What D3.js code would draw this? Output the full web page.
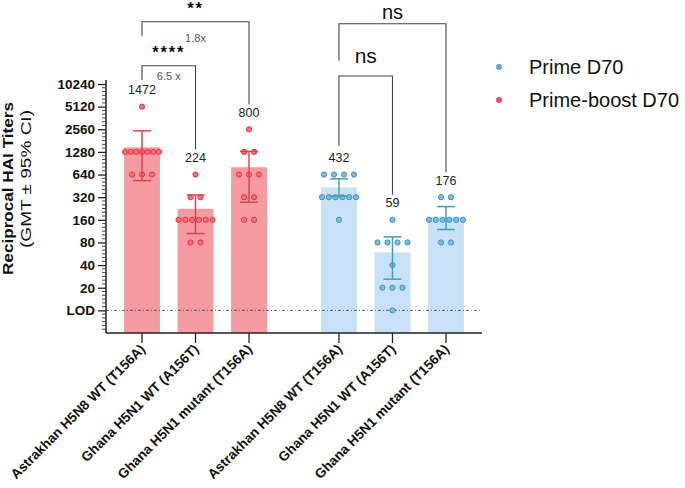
<!DOCTYPE html>
<html><head><meta charset="utf-8">
<script src="https://cdn.jsdelivr.net/npm/d3@7"></script>
<style>
html,body{margin:0;padding:0;background:#fff;}
svg{display:block;font-family:"Liberation Sans",Arial,sans-serif;}
</style></head>
<body><svg id="c" width="685" height="488"></svg>
<script>
// ---------------- data ----------------
const groups = ["Prime-boost D70", "Prime D70"];
const antigens = ["Astrakhan H5N8 WT (T156A)", "Ghana H5N1 WT (A156T)", "Ghana H5N1 mutant (T156A)"];
const gmtPrimeBoost = [1472, 224, 800];
const gmtPrime = [432, 59, 176];
const ciLowPrimeBoost = [532, 105, 275];
const ciHighPrimeBoost = [2440, 343, 1300];
const ciLowPrime = [330, 26, 119];
const ciHighPrime = [561, 95, 240];
const titersPrimeBoost = [
  [5120, 1280, 1280, 1280, 1280, 1280, 1280, 1280, 640, 640, 640],
  [640, 320, 320, 160, 160, 160, 160, 160, 160, 80, 80],
  [2560, 1280, 1280, 640, 640, 640, 320, 320, 160, 160]
];
const titersPrime = [
  [640, 640, 640, 640, 320, 320, 320, 320, 320, 320, 160],
  [160, 80, 80, 80, 80, 40, 20, 20, 20, 10],
  [320, 320, 160, 160, 160, 160, 160, 160, 80, 80]
];
const yTickValues = [10, 20, 40, 80, 160, 320, 640, 1280, 2560, 5120, 10240];
const yTickLabels = ["LOD", "20", "40", "80", "160", "320", "640", "1280", "2560", "5120", "10240"];
const LOD = 10;
const brackets = [
  {g: 0, a: 0, b: 1, sig: "****", fold: "6.5 x"},
  {g: 0, a: 0, b: 2, sig: "**", fold: "1.8x"},
  {g: 1, a: 0, b: 1, sig: "ns", fold: ""},
  {g: 1, a: 0, b: 2, sig: "ns", fold: ""}
];
const legendItems = ["Prime D70", "Prime-boost D70"];

// ---------------- styles ----------------
const style = {
  "Prime-boost D70": {bar: "#f49aa1", dotFill: "#f9717c", dotStroke: "#e9333f", err: "#e8404b", legend: "#f0525d"},
  "Prime D70": {bar: "#c9e1f7", dotFill: "#7fbbe3", dotStroke: "#3f8fc8", err: "#3ea2ad", legend: "#66acdc"}
};

const series = [
  {group: groups[0], gmt: gmtPrimeBoost, lo: ciLowPrimeBoost, hi: ciHighPrimeBoost, titers: titersPrimeBoost},
  {group: groups[1], gmt: gmtPrime, lo: ciLowPrime, hi: ciHighPrime, titers: titersPrime}
];

const svg = d3.select("#c");
const pL = 106, pR = 482, pT = 84, pB = 333;

const y = d3.scaleLog().base(2).domain([5, 10240]).range([pB, pT]);
const x0 = d3.scaleBand().domain(groups).range([pL, pR]).paddingInner(0.185).paddingOuter(0.047);
const x1 = d3.scaleBand().domain(antigens).range([0, x0.bandwidth()]).paddingInner(0.33).paddingOuter(0.165);
const cx = (g, a) => x0(g) + x1(a) + x1.bandwidth() / 2;

// bars
series.forEach(s => {
  const st = style[s.group];
  svg.append("g").selectAll("rect").data(antigens).join("rect")
    .attr("x", a => x0(s.group) + x1(a))
    .attr("width", x1.bandwidth())
    .attr("y", (a, i) => y(s.gmt[i]))
    .attr("height", (a, i) => pB - y(s.gmt[i]))
    .attr("fill", st.bar);
});

// LOD line
svg.append("line").attr("x1", pL).attr("x2", pR).attr("y1", y(LOD)).attr("y2", y(LOD))
  .attr("stroke", "#555").attr("stroke-width", 0.9).attr("stroke-dasharray", "3,2,1,2");

// dots
series.forEach(s => {
  const st = style[s.group];
  antigens.forEach((a, i) => {
    const rows = d3.groups(s.titers[i], v => v);
    rows.forEach(([v, arr]) => {
      const n = arr.length;
      const sp = n > 1 ? Math.min(10, 34 / (n - 1)) : 0;
      svg.append("g").selectAll("circle").data(arr).join("circle")
        .attr("cx", (d, k) => cx(s.group, a) + (k - (n - 1) / 2) * sp)
        .attr("cy", y(v))
        .attr("r", 2.6)
        .attr("fill", st.dotFill)
        .attr("stroke", st.dotStroke)
        .attr("stroke-width", 1);
    });
  });
});

// error bars
series.forEach(s => {
  const st = style[s.group];
  antigens.forEach((a, i) => {
    const c = cx(s.group, a);
    const g = svg.append("g").attr("stroke", st.err).attr("stroke-width", 1.5);
    g.append("line").attr("x1", c).attr("x2", c).attr("y1", y(s.lo[i])).attr("y2", y(s.hi[i]));
    [s.lo[i], s.hi[i]].forEach(v => g.append("line").attr("x1", c - 9).attr("x2", c + 9).attr("y1", y(v)).attr("y2", y(v)));
  });
});

// value labels
series.forEach(s => {
  antigens.forEach((a, i) => {
    svg.append("text").attr("x", cx(s.group, a)).attr("y", y(d3.max(s.titers[i])) - 12.5)
      .attr("text-anchor", "middle").attr("font-size", 12.5).attr("fill", "#222").text(s.gmt[i]);
  });
});

// axes
const ya = svg.append("g").attr("transform", `translate(${pL},0)`)
  .call(d3.axisLeft(y).tickValues(yTickValues).tickFormat((d, i) => yTickLabels[i]).tickSize(8).tickPadding(3));
ya.select(".domain").attr("d", `M0,${pB}V${pT - 4}`).attr("stroke", "#222").attr("stroke-width", 1.5);
ya.selectAll(".tick line").attr("stroke", "#222").attr("stroke-width", 1.3);
ya.selectAll(".tick text").attr("font-size", 13.5).attr("font-weight", "bold").attr("fill", "#111")
  .attr("font-family", "Liberation Sans, Arial, sans-serif");
// minor ticks
const minor = [];
d3.range(0, 11).forEach(k => { const base = 5 * Math.pow(2, k); d3.range(1, 6).forEach(j => minor.push(base * Math.pow(2, j / 6))); });
svg.append("g").selectAll("line").data(minor).join("line")
  .attr("x1", pL - 4).attr("x2", pL).attr("y1", d => y(d)).attr("y2", d => y(d))
  .attr("stroke", "#333").attr("stroke-width", 0.9);

// x axis
svg.append("line").attr("x1", pL).attr("x2", pR).attr("y1", pB).attr("y2", pB)
  .attr("stroke", "#222").attr("stroke-width", 1.5);
series.forEach(s => {
  antigens.forEach(a => {
    const c = cx(s.group, a);
    svg.append("line").attr("x1", c).attr("x2", c).attr("y1", pB).attr("y2", pB + 10)
      .attr("stroke", "#222").attr("stroke-width", 1.3);
    svg.append("text").attr("transform", `translate(${c + 4},${pB + 17}) rotate(-45)`)
      .attr("text-anchor", "end").attr("font-size", 13.6).attr("font-weight", "bold").attr("fill", "#111").text(a);
  });
});

// y title
svg.append("text").attr("transform", `translate(13,188.5) rotate(-90)`).attr("text-anchor", "middle")
  .attr("font-size", 15.5).attr("font-weight", "bold").attr("fill", "#111")
  .attr("textLength", 173).attr("lengthAdjust", "spacingAndGlyphs").text("Reciprocal HAI Titers");
svg.append("text").attr("transform", `translate(31,179) rotate(-90)`).attr("text-anchor", "middle")
  .attr("font-size", 15).attr("fill", "#111")
  .attr("textLength", 138).attr("lengthAdjust", "spacingAndGlyphs").text("(GMT \u00b1 95% CI)");

// brackets
const bracketGeom = [
  {yTop: 65.7, legA: 80, sigY: 58, sigSize: 16.5, foldY: 80},
  {yTop: 21.7, legA: 35.7, sigY: 14, sigSize: 16.5, foldY: 42},
  {yTop: 76, legA: 145.7, sigY: 63, sigSize: 21, foldY: 0},
  {yTop: 23.7, legA: 60.7, sigY: 19, sigSize: 20, foldY: 0}
];
brackets.forEach((b, i) => {
  const gm = bracketGeom[i];
  const s = series[b.g];
  const xa = cx(s.group, antigens[b.a]), xb = cx(s.group, antigens[b.b]);
  const legB = y(d3.max(s.titers[b.b])) - 25;
  svg.append("path").attr("d", `M${xa},${gm.legA}V${gm.yTop}H${xb}V${legB}`)
    .attr("fill", "none").attr("stroke", "#444").attr("stroke-width", 1.1);
  const mid = (xa + xb) / 2;
  const isStar = b.sig.includes("*");
  svg.append("text").attr("x", mid).attr("y", gm.sigY).attr("text-anchor", "middle")
    .attr("font-size", gm.sigSize).attr("font-weight", isStar ? "bold" : "normal")
    .attr("letter-spacing", isStar ? 1.8 : 0).attr("fill", "#111").text(b.sig);
  if (b.fold) {
    svg.append("text").attr("x", mid).attr("y", gm.foldY).attr("text-anchor", "middle")
      .attr("font-size", 11).attr("fill", "#555").text(b.fold);
  }
});

// legend
legendItems.forEach((name, i) => {
  const yy = 67 + i * 33;
  svg.append("circle").attr("cx", 499).attr("cy", yy).attr("r", 2.7)
    .attr("fill", style[name].legend).attr("stroke", style[name].dotStroke).attr("stroke-width", 0.6);
  svg.append("text").attr("x", 529).attr("y", yy + 7).attr("font-size", 20).attr("fill", "#111").text(name);
});
</script></body></html>
